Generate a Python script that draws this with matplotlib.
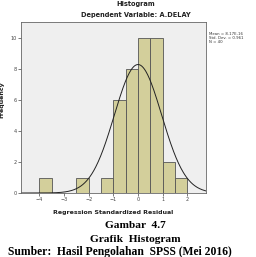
import numpy as np
import matplotlib
matplotlib.use('Agg')
import matplotlib.pyplot as plt

# histogram of regression standardized residuals (bin width 0.5)
bin_edges = [-4.0, -3.5, -3.0, -2.5, -2.0, -1.5, -1.0, -0.5, 0.0, 0.5, 1.0, 1.5, 2.0]
counts = [1, 0, 0, 1, 0, 1, 6, 8, 10, 10, 2, 1]
mean = 8.17e-16
std = 0.961
n = 40

fig = plt.figure(figsize=(2.56, 2.57), dpi=100)
ax = fig.add_axes([21/256, 1 - 193/257, 185/256, 171/257])
ax.set_facecolor('#efefef')

lefts = bin_edges[:-1]
widths = np.diff(bin_edges)
for l, w, c in zip(lefts, widths, counts):
    if c > 0:
        ax.bar(l, c, width=w, align='edge', color='#d3cf9b',
               edgecolor='#555555', linewidth=0.6)

# normal curve scaled to counts
xs = np.linspace(-4.75, 2.75, 300)
bw = 0.5
ys = n * bw / (std * np.sqrt(2 * np.pi)) * np.exp(-0.5 * ((xs - mean) / std) ** 2)
ax.plot(xs, ys, color='#222222', linewidth=0.7)

ax.set_xlim(-4.75, 2.76)
ax.set_ylim(0, 11.05)
ax.set_xticks([-4, -3, -2, -1, 0, 1, 2])
ax.set_yticks([0, 2, 4, 6, 8, 10])
ax.tick_params(labelsize=3.5, length=2, width=0.5, pad=1, colors='#444444')
for s in ax.spines.values():
    s.set_linewidth(0.6)
    s.set_color('#666666')

ax.set_xlabel('Regression Standardized Residual', fontsize=4.5,
              fontweight='bold', color='#222222')
ax.xaxis.set_label_coords(0.5, -(210 - 193) / 171)
ax.set_ylabel('Frequency', fontsize=4.5, fontweight='bold', color='#222222')
ax.yaxis.set_label_coords(-(21 - 4.5) / 185, 1 - (100 - 22) / 171)

fig.text(0.53, 1 - 4/257, 'Histogram', ha='center', va='center',
         fontsize=4.8, fontweight='bold', color='#222222')
fig.text(0.53, 1 - 15.5/257, 'Dependent Variable: A.DELAY', ha='center',
         va='center', fontsize=4.8, fontweight='bold', color='#222222')

fig.text(209/256, 1 - 32/257, 'Mean = 8.17E-16\nStd. Dev. = 0.961\nN = 40',
         ha='left', va='top', fontsize=2.8, linespacing=1.0, color='#333333')

serif = ['Liberation Serif', 'DejaVu Serif']
fig.text(0.53, 1 - 225/257, 'Gambar  4.7', ha='center', va='center',
         fontsize=8.2, fontweight='bold', family=serif)
fig.text(0.53, 1 - 240/257, 'Grafik  Histogram', ha='center', va='center',
         fontsize=8.2, fontweight='bold', family=serif)
fig.text(120/256, 1 - 252/257, 'Sumber:  Hasil Pengolahan  SPSS (Mei 2016)',
         ha='center', va='center', fontsize=8.4, fontweight='bold', family=serif)

fig.savefig('out.png', dpi=100)
